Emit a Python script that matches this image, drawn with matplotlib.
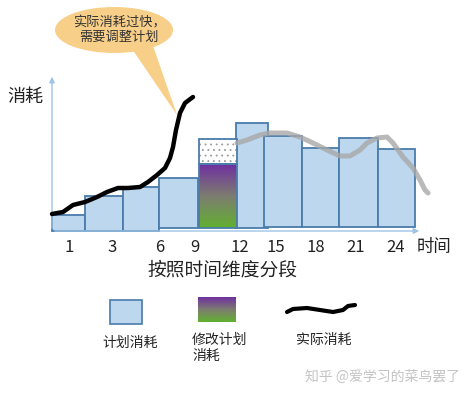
import numpy as np
import matplotlib
matplotlib.use('Agg')
import matplotlib.pyplot as plt
from matplotlib.patches import Ellipse, Polygon, Rectangle
from matplotlib.colors import LinearSegmentedColormap

plt.rcParams['font.family'] = ['Noto Sans CJK SC', 'DejaVu Sans']
plt.rcParams['hatch.linewidth'] = 0.6

# ---------------- data ----------------
bar_left = [0, 33, 71, 107, 147, 184, 212, 250, 287, 326]
bar_width = [33, 38, 36, 39, 38, 32, 38, 37, 39, 37]
bar_bottom = [0, 0, 0, 3, 3, 3, 4, 4, 4, 4]
plan_top = [16, 35, 44, 53, 92, 108, 95, 83, 93, 82]
revised_index = 4
revised_top = 67

tick_labels = ['1', '3', '6', '9', '12', '15', '18', '21', '24']
tick_pos = [17, 60, 108, 143, 188, 224, 264, 304, 344]

actual_x = [0, 11, 21, 33, 45, 55, 66, 76, 88, 96, 105, 113, 118, 121, 124, 128, 133, 141]
actual_y = [17, 19, 26, 29, 34, 39, 43, 43, 44, 49, 56, 63, 73, 84, 101, 118, 128, 134]

trend_x = [185, 195, 208, 218, 235, 248, 261, 275, 288, 298, 308, 315, 325, 335, 341, 351, 361, 368, 373, 376]
trend_y = [88, 91, 96, 98, 98, 94, 88, 81, 75, 75, 81, 88, 93, 94, 88, 74, 63, 51, 41, 38]

legend_wave_x = [235, 241, 255, 268, 281, 291, 296, 303]
legend_wave_y = [-81, -78, -77, -79, -81, -79, -75, -74]

# ---------------- styles ----------------
BAR_FACE = '#bdd7ee'
BAR_EDGE = '#4a7cab'
AXIS_C = '#9dc3e6'
grad_cmap = LinearSegmentedColormap.from_list('g', ['#62b030', '#7d7d70', '#7030a0'])

fig = plt.figure(figsize=(4.74, 3.96), dpi=100)
ax = fig.add_axes([0, 0, 1, 1])
ax.axis('off')

# axes arrows
ax.annotate('', xy=(0, 157), xytext=(0, 0),
            arrowprops=dict(arrowstyle='-|>', color=AXIS_C, lw=1.0, mutation_scale=8))
ax.annotate('', xy=(370, 0), xytext=(0, 0),
            arrowprops=dict(arrowstyle='-|>', color=AXIS_C, lw=1.0, mutation_scale=8))

# trend (grey) line
ax.plot(trend_x, trend_y, color='#a8a8a8', alpha=0.8, lw=3.6, solid_capstyle='round',
        zorder=2.5, clip_on=False)

# plan bars
heights = [t - b for t, b in zip(plan_top, bar_bottom)]
for i in range(len(bar_left)):
    if i == revised_index:
        continue
    ax.bar(bar_left[i], heights[i], width=bar_width[i], bottom=bar_bottom[i], align='edge',
           facecolor=BAR_FACE, edgecolor=BAR_EDGE, linewidth=1.3, zorder=2)

# revised bar: dotted upper part (original plan) + gradient lower part
i = revised_index
ax.bar(bar_left[i], plan_top[i] - revised_top, width=bar_width[i], bottom=revised_top, align='edge',
       facecolor='white', edgecolor='#9a9a9a', linewidth=0, hatch='...', zorder=2)
ax.bar(bar_left[i], plan_top[i] - revised_top, width=bar_width[i], bottom=revised_top, align='edge',
       fill=False, edgecolor=BAR_EDGE, linewidth=1.3, zorder=2.2)
grad_bar = ax.bar(bar_left[i], revised_top - bar_bottom[i], width=bar_width[i], bottom=bar_bottom[i],
                  align='edge', facecolor='none', edgecolor=BAR_EDGE, linewidth=1.3, zorder=2.3)[0]
gimg = np.linspace(0, 1, 100).reshape(-1, 1)
im = ax.imshow(gimg, cmap=grad_cmap, origin='lower', aspect='auto', zorder=2.1,
               extent=[bar_left[i], bar_left[i] + bar_width[i], bar_bottom[i], revised_top])
im.set_clip_path(grad_bar)

# actual consumption (black)
ax.plot(actual_x, actual_y, color='black', lw=3.2, solid_capstyle='round', zorder=4, clip_on=False)

# tick labels
for p, lab in zip(tick_pos, tick_labels):
    ax.text(p, -16, lab, ha='center', va='center', fontsize=12, color='#222222')
ax.text(382, -16, '时间', ha='center', va='center', fontsize=12.5, color='#222222')
ax.text(-27, 134, '消耗', ha='center', va='center', fontsize=13, color='#222222')
ax.text(170, -39, '按照时间维度分段', ha='center', va='center', fontsize=13.5, color='#222222')

# callout
CALL = '#f8cf88'
ax.add_patch(Polygon([(76, 188), (100, 188), (125, 116)], closed=True, facecolor=CALL,
                     edgecolor='none', zorder=5))
ax.add_patch(Ellipse((62, 201), 118, 46, facecolor=CALL, edgecolor='none', zorder=5))
ax.text(67, 201, '实际消耗过快，\n需要调整计划', ha='center', va='center', fontsize=9.5,
        color='#333333', linespacing=1.1, zorder=6)

# legend
ax.add_patch(Rectangle((58, -93), 32, 24, facecolor=BAR_FACE, edgecolor=BAR_EDGE, lw=1.2))
lg = Rectangle((146, -91), 38, 25, facecolor='none', edgecolor='none', lw=0)
ax.add_patch(lg)
im2 = ax.imshow(gimg, cmap=grad_cmap, origin='lower', aspect='auto', extent=[146, 184, -91, -66])
im2.set_clip_path(lg)
ax.plot(legend_wave_x, legend_wave_y, color='black', lw=3, solid_capstyle='round')

ax.text(78, -112, '计划消耗', ha='center', va='center', fontsize=10, color='#222222')
ax.text(140, -117, '修改计划\n消耗', ha='left', va='center', fontsize=10, color='#222222',
        linespacing=1.1)
ax.text(272, -109, '实际消耗', ha='center', va='center', fontsize=10, color='#222222')

ax.text(331, -146, '知乎 @爱学习的菜鸟罢了', ha='center', va='center', fontsize=10, color='#c4c4c4')

ax.set_xlim(-52, 422)
ax.set_ylim(-165, 231)

fig.savefig('out.png', dpi=100)
